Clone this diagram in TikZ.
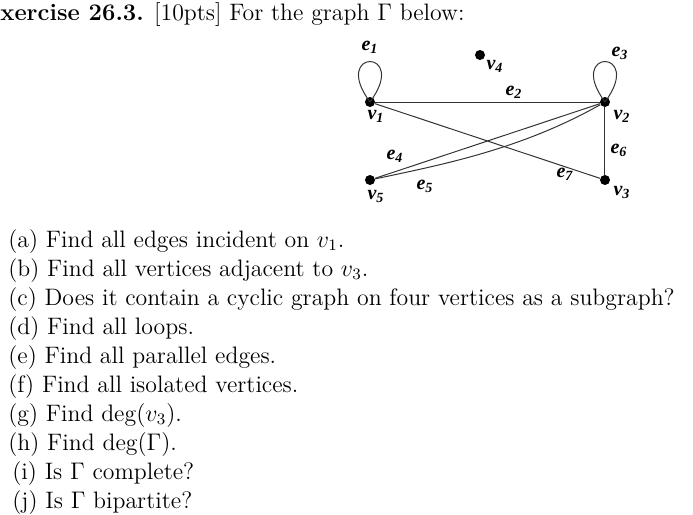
\documentclass[tikz,border=0pt]{standalone}
\usepackage{fontspec}
\newfontfamily\gf{Liberation Serif}
\begin{document}
\begin{tikzpicture}[x=0.5pt,y=-0.5pt,
  vtx/.style={circle,fill=black,inner sep=0pt,minimum size=5pt},
  glab/.style={font=\gf\bfseries\itshape\fontsize{10}{11}\selectfont,inner sep=0pt},
  item/.style={anchor=base west,inner sep=0pt,font=\fontsize{11.9}{13}\selectfont},
  edge/.style={draw=black!80,line width=0.5pt}]
\useasboundingbox (0,0) rectangle (693,515);
\clip (0,0) rectangle (693,515);
\node[item,anchor=base east] (hd0) at (0,20) {\textbf{E}};
\node[item] (hd) at (hd0.base east) {\textbf{xercise 26.3.} [10pts] For the graph $\Gamma$ below:};
\node[vtx] (v1) at (370,102) {};
\node[vtx] (v2) at (605,102) {};
\node[vtx] (v3) at (605,180) {};
\node[vtx] (v4) at (480,55) {};
\node[vtx] (v5) at (370,180) {};
\draw[edge] (v1.center) .. controls (330,48) and (410,48) .. (v1.center);
\draw[edge] (v2.center) .. controls (565,48) and (645,48) .. (v2.center);
\draw[edge] (v1) -- (v2);
\draw[edge] (v1) -- (v3);
\draw[edge] (v2) -- (v3);
\draw[edge] (v5) -- (v2);
\draw[edge] (v5) .. controls (440,165) and (520,150) .. (v2);
\node[glab] (le1) at (370,47) {e\textsubscript{1}};
\node[glab] (le3) at (620,53) {e\textsubscript{3}};
\node[glab] (le2) at (514,92) {e\textsubscript{2}};
\node[glab] (lv1) at (376,116) {v\textsubscript{1}};
\node[glab] (lv2) at (622,116) {v\textsubscript{2}};
\node[glab] (le6) at (619,150) {e\textsubscript{6}};
\node[glab] (lv3) at (622,192) {v\textsubscript{3}};
\node[glab] (lv5) at (376,196) {v\textsubscript{5}};
\node[glab] (le4) at (395,156) {e\textsubscript{4}};
\node[glab] (le5) at (425,186) {e\textsubscript{5}};
\node[glab] (le7) at (565,174) {e\textsubscript{7}};
\node[glab] (lv4) at (495,66) {v\textsubscript{4}};
\node[item] (a) at (8,247) {(a) Find all edges incident on $v_1$.};
\node[item] (b) at (8,276) {(b) Find all vertices adjacent to $v_3$.};
\node[item] (c) at (8,305) {(c) Does it contain a cyclic graph on four vertices as a subgraph?};
\node[item] (d) at (8,334) {(d) Find all loops.};
\node[item] (e) at (8,363) {(e) Find all parallel edges.};
\node[item] (f) at (8,392) {(f) Find all isolated vertices.};
\node[item] (g) at (8,421) {(g) Find $\deg(v_3)$.};
\node[item] (h) at (8,450) {(h) Find $\deg(\Gamma)$.};
\node[item] (i) at (12,479) {(i) Is $\Gamma$ complete?};
\node[item] (j) at (12,508) {(j) Is $\Gamma$ bipartite?};
\end{tikzpicture}
\end{document}
